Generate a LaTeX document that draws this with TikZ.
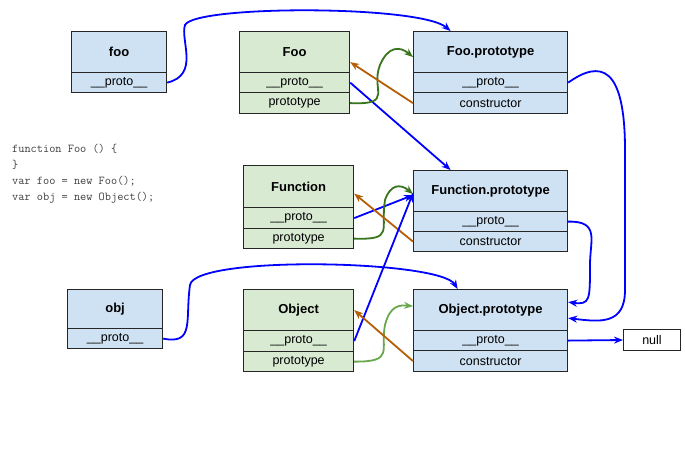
\documentclass[tikz,border=0pt]{standalone}
\usepackage{fontspec}
\setmainfont{Liberation Sans}
\usetikzlibrary{arrows.meta}
\definecolor{bluebox}{HTML}{CFE2F3}
\definecolor{greenbox}{HTML}{D9EAD3}
\definecolor{ablue}{HTML}{0000FF}
\definecolor{agreen}{HTML}{38761D}
\definecolor{alg}{HTML}{6AA84F}
\definecolor{abrown}{HTML}{B45F06}
\begin{document}
\begin{tikzpicture}[x=1pt,y=-1pt,
  cell/.style={draw=black!85,line width=1.2pt,anchor=north west,inner sep=0pt,font=\fontsize{12.5}{14}\selectfont},
  title/.style={cell,font=\fontsize{13}{15}\selectfont\bfseries},
  arr/.style={line width=1.8pt,-{Stealth[length=9pt,width=7pt]}},
  pb/.style={arr,color=ablue},
  pg/.style={arr,color=agreen},
  pl/.style={arr,color=alg},
  pc/.style={arr,color=abrown}]
\useasboundingbox (0,0) rectangle (685,456);
\fill[white] (0,0) rectangle (685,456);
% helper macro
\newcommand\objbox[8]{% name, x, width, y, title, h1, fill, rows ...
}
% foo
\node[title,fill=bluebox,minimum width=95pt,minimum height=41pt] (foo) at (71,31) {foo};
\node[cell,fill=bluebox,minimum width=95pt,minimum height=20pt] (foop) at (71,72) {\_\_proto\_\_};
% Foo
\node[title,fill=greenbox,minimum width=110pt,minimum height=41pt] (Foo) at (239,31) {Foo};
\node[cell,fill=greenbox,minimum width=110pt,minimum height=20pt] (Foop) at (239,72) {\_\_proto\_\_};
\node[cell,fill=greenbox,minimum width=110pt,minimum height=21pt] (Foopt) at (239,92) {prototype};
% Foo.prototype
\node[title,fill=bluebox,minimum width=154pt,minimum height=41pt] (FP) at (413,31) {Foo.prototype};
\node[cell,fill=bluebox,minimum width=154pt,minimum height=20pt] (FPp) at (413,72) {\_\_proto\_\_};
\node[cell,fill=bluebox,minimum width=154pt,minimum height=21pt] (FPc) at (413,92) {constructor};
% Function
\node[title,fill=greenbox,minimum width=110pt,minimum height=42pt] (Fn) at (243,165) {Function};
\node[cell,fill=greenbox,minimum width=110pt,minimum height=21pt] (Fnp) at (243,207) {\_\_proto\_\_};
\node[cell,fill=greenbox,minimum width=110pt,minimum height=20pt] (Fnpt) at (243,228) {prototype};
% Function.prototype
\node[title,fill=bluebox,minimum width=154pt,minimum height=41pt] (FnP) at (413,170) {Function.prototype};
\node[cell,fill=bluebox,minimum width=154pt,minimum height=20pt] (FnPp) at (413,211) {\_\_proto\_\_};
\node[cell,fill=bluebox,minimum width=154pt,minimum height=20pt] (FnPc) at (413,231) {constructor};
% obj
\node[title,fill=bluebox,minimum width=95pt,minimum height=39pt] (obj) at (67,289) {obj};
\node[cell,fill=bluebox,minimum width=95pt,minimum height=20pt] (objp) at (67,328) {\_\_proto\_\_};
% Object
\node[title,fill=greenbox,minimum width=110pt,minimum height=41pt] (Ob) at (243,289) {Object};
\node[cell,fill=greenbox,minimum width=110pt,minimum height=21pt] (Obp) at (243,330) {\_\_proto\_\_};
\node[cell,fill=greenbox,minimum width=110pt,minimum height=20pt] (Obpt) at (243,351) {prototype};
% Object.prototype
\node[title,fill=bluebox,minimum width=154pt,minimum height=41pt] (ObP) at (413,289) {Object.prototype};
\node[cell,fill=bluebox,minimum width=154pt,minimum height=20pt] (ObPp) at (413,330) {\_\_proto\_\_};
\node[cell,fill=bluebox,minimum width=154pt,minimum height=21pt] (ObPc) at (413,350) {constructor};
% null
\node[cell,fill=white,line width=1pt,minimum width=57pt,minimum height=21pt] (null) at (623,329) {null};
% code
\node[anchor=north west,align=left,text=black!75,font=\ttfamily\fontsize{12}{16}\selectfont,inner sep=0pt] (code) at (12,144)
 {function Foo () \{\\\}\\var foo = new Foo();\\var obj = new Object();};
% arrows
\draw[pb] (foop.east) .. controls (200,75) and (180,40) .. (185,25) .. controls (195,5) and (420,5) .. ([xshift=-40pt]FP.north);
\draw[pb] (Foop.east) -- ([xshift=-40pt]FnP.north);
\draw[pb] (FPp.east) .. controls (600,60) and (625,65) .. (625,150) -- (625,290) .. controls (625,325) and (600,322) .. ([yshift=-8pt]ObP.east);
\draw[pg] (Foopt.east) .. controls (395,105) and (370,90) .. (380,65) .. controls (388,46) and (400,46) .. ([yshift=-5pt]FP.west);
\draw[pc] (FPc.west) -- ([yshift=-10pt]Foo.east);
\draw[pb] (Fnp.east) -- ([yshift=-4pt]FnP.west);
\draw[pg] (Fnpt.east) .. controls (395,240) and (380,230) .. (385,200) .. controls (390,185) and (400,183) .. ([yshift=-3pt]FnP.west);
\draw[pc] (FnPc.west) -- ([yshift=-7pt]Fn.east);
\draw[pb] (FnPp.east) .. controls (600,221) and (590,240) .. (590,265) .. controls (590,300) and (590,305) .. ([yshift=8pt]ObP.east);
\draw[pb] (objp.east) .. controls (195,345) and (185,320) .. (190,285) .. controls (195,255) and (440,260) .. ([xshift=-33pt]ObP.north);
\draw[pb] (Obp.east) -- ([yshift=-2pt]FnP.west);
\draw[pl] (Obpt.east) .. controls (395,362) and (380,350) .. (385,325) .. controls (390,305) and (400,305) .. ([yshift=4pt]ObP.west);
\draw[pc] (ObPc.west) -- ([yshift=0pt]Ob.east);
\draw[pb] (ObPp.east) -- (null.west);
\end{tikzpicture}
\end{document}
